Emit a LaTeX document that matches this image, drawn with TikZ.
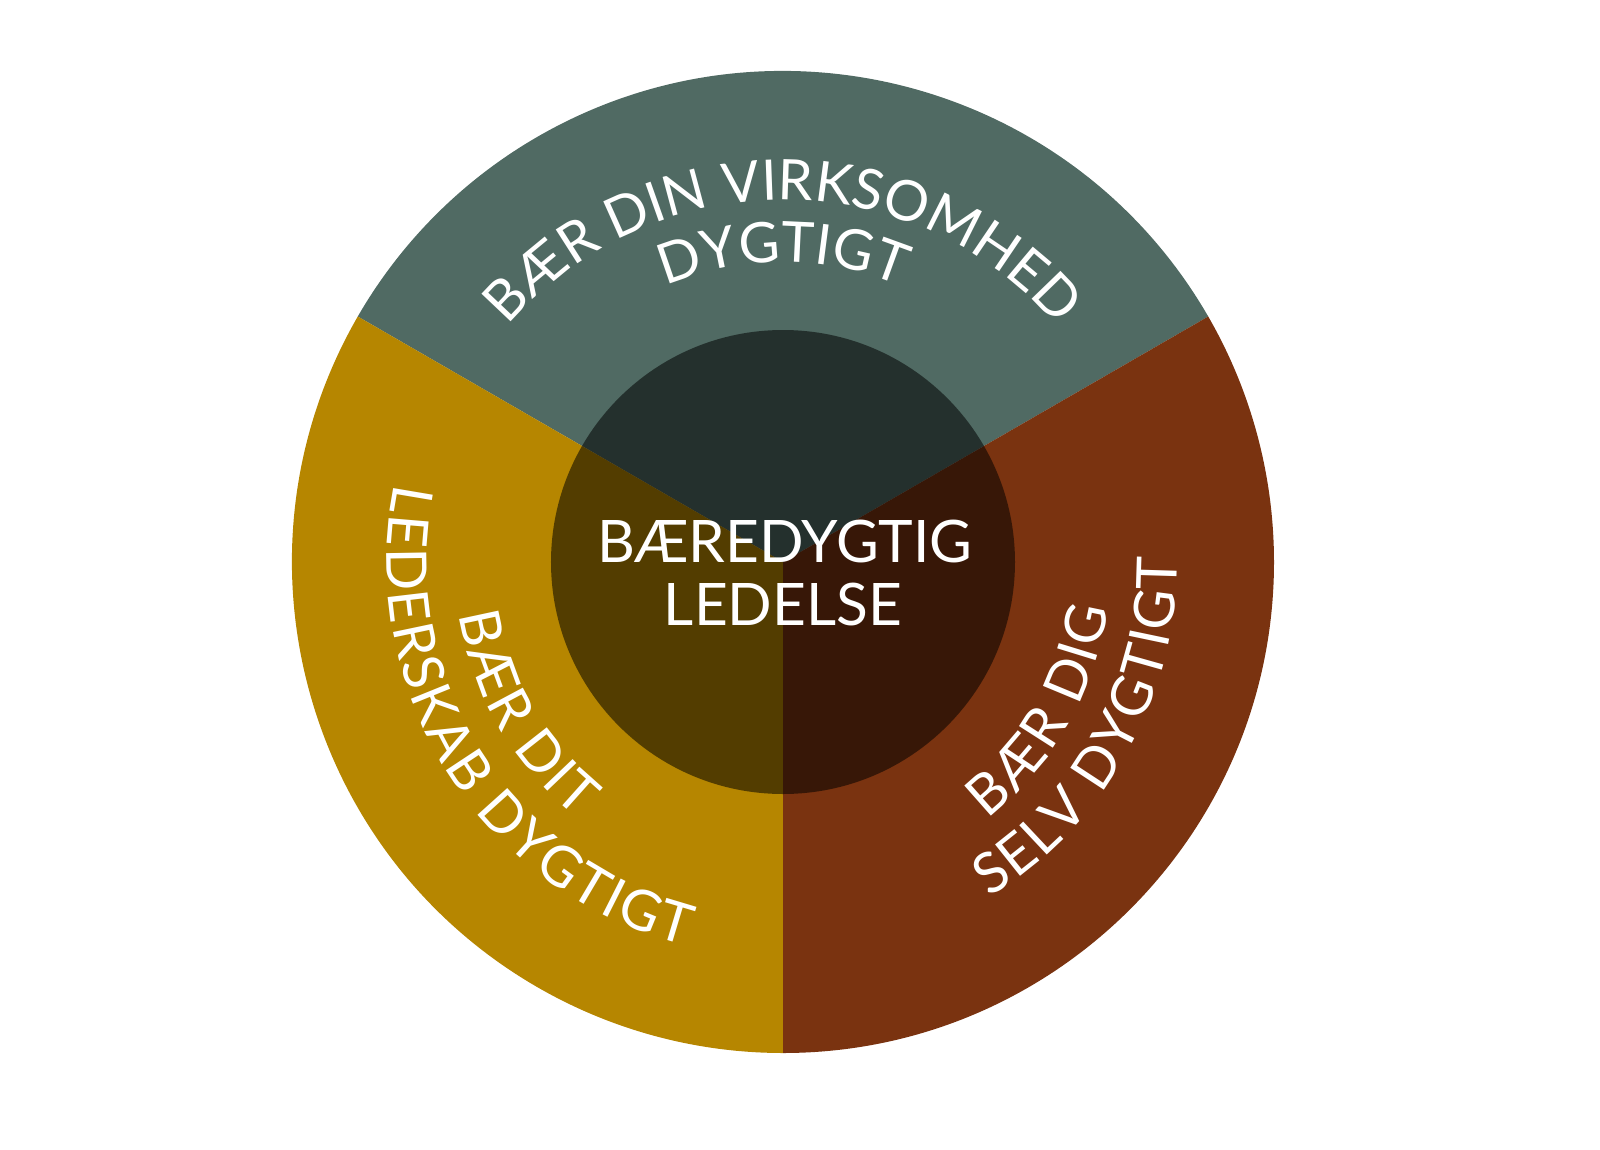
\documentclass[tikz,border=0pt]{standalone}
\usepackage{fontspec}
\setmainfont{Lato}
\usetikzlibrary{decorations.text}
\definecolor{topc}{HTML}{506A63}
\definecolor{leftc}{HTML}{B68600}
\definecolor{rightc}{HTML}{7A3310}
\newcommand\curvefont{\fontsize{56}{60}\selectfont}
\begin{document}
\begin{tikzpicture}[x=1pt,y=1pt,
  curved/.style 2 args={decorate,decoration={text along path,text color=white,text align=center,text={|\curvefont\kern#2pt|#1}}},
  centertext/.style={text=white,anchor=base,inner sep=0pt,font=\fontsize{58.6}{63}\selectfont}]
\useasboundingbox (-783,-587) rectangle (817,562);
% sectors
\fill[topc] (0,0) -- (30:491) arc[start angle=30,end angle=150,radius=491] -- cycle;
\fill[leftc] (0,0) -- (150:491) arc[start angle=150,end angle=270,radius=491] -- cycle;
\fill[rightc] (0,0) -- (270:491) arc[start angle=270,end angle=390,radius=491] -- cycle;
% inner darkening circle
\fill[black,opacity=0.54] (0,0) circle[radius=232];
% centre text
\node[centertext] (c1) at (2,0) {BÆREDYGTIG};
\node[centertext] (c2) at (0,-63) {LEDELSE};
% curved texts
\path[curved={BÆR DIN VIRKSOMHED}{0}] (150:362) arc[start angle=150,end angle=30,radius=362];
\path[curved={DYGTIGT}{0}] (150:300) arc[start angle=150,end angle=30,radius=300];
\path[curved={LEDERSKAB DYGTIGT}{2.2}] (152:396) arc[start angle=152,end angle=272,radius=396];
\path[curved={BÆR DIT}{2}] (150:328) arc[start angle=150,end angle=270,radius=328];
\path[curved={SELV DYGTIGT}{2}] (271:394) arc[start angle=271,end angle=391,radius=394];
\path[curved={BÆR DIG}{2}] (270:328) arc[start angle=270,end angle=390,radius=328];
\end{tikzpicture}
\end{document}
